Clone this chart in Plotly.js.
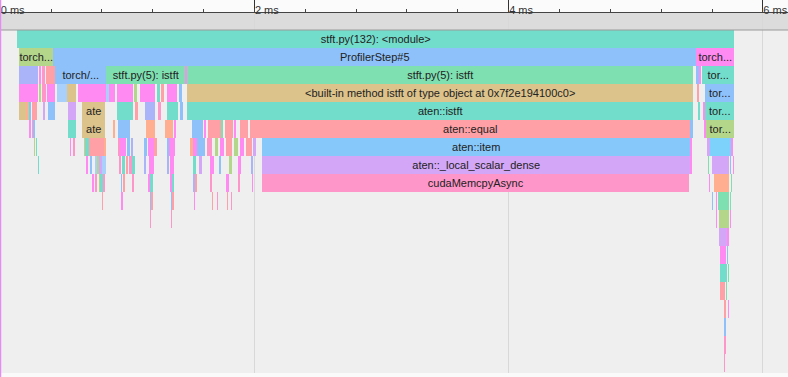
<!DOCTYPE html>
<html>
<head>
<meta charset="utf-8">
<script src="https://cdn.plot.ly/plotly-3.0.1.min.js"></script>
<style>html,body{margin:0;padding:0;background:#fafafa;}#chart{width:788px;height:377px;}</style>
</head>
<body>
<div id="chart"></div>
<script>
// ---- function names ----
const MOD="stft.py(132): <module>", PS="ProfilerStep#5",
  TEN="torch/autograd/profiler.py: __enter__", TEX="torch/autograd/profiler.py: __exit__",
  TF="torch/functional.py: istft", SI="stft.py(5): istft",
  BI="<built-in method istft of type object at 0x7f2e194100c0>",
  AI="aten::istft", AE="aten::equal", AIT="aten::item", LSD="aten::_local_scalar_dense", CM="cudaMemcpyAsync",
  TO="aten::to", TC="aten::_to_copy",
  P1="torch/profiler/profiler.py: step", P2="torch/profiler/profiler.py: _transit_action",
  P3="torch/profiler/profiler.py: stop_trace", P4="torch/autograd/profiler.py: _disable_profiler",
  VW="aten::view", RS="aten::reshape", NR="aten::narrow", CT="aten::contiguous", SL="aten::slice",
  CP="aten::copy_", AS="aten::as_strided", EM="aten::empty", AD="aten::add", DV="aten::div",
  ML="aten::mul", SE="aten::select", ZR="aten::zeros";

// ---- data: one inner array per stack depth (ms) ----
const starts = [
  [0.134],
  [0.149, 0.417, 5.476],
  [0.149, 0.307, 0.330, 0.362, 0.433, 0.834, 1.456, 1.471, 5.476, 5.500, 5.523],
  [0.149, 0.307, 0.330, 0.370, 0.448, 0.527, 0.614, 0.834, 0.858, 0.921, 1.054, 1.101, 1.235, 1.267, 1.314, 1.408, 1.471, 5.484, 5.547],
  [0.149, 0.205, 0.220, 0.228, 0.252, 0.338, 0.378, 0.535, 0.645, 0.921, 1.062, 1.141, 1.243, 1.314, 1.416, 1.471, 5.492, 5.531, 5.547],
  [0.228, 0.252, 0.260, 0.535, 0.645, 0.889, 0.928, 1.149, 1.298, 1.369, 1.511, 1.605, 1.637, 1.739, 1.770, 1.841, 1.888, 1.967, 5.429, 5.539, 5.555],
  [0.268, 0.283, 0.551, 0.574, 0.661, 0.669, 0.700, 0.818, 0.928, 0.944, 0.999, 1.031, 1.133, 1.164, 1.212, 1.314, 1.330, 1.495, 1.518, 1.550, 1.629, 1.692, 1.731, 1.778, 1.841, 1.888, 1.935, 1.991, 2.061, 5.429, 5.563, 5.586, 5.751],
  [0.299, 0.677, 0.708, 0.747, 0.763, 0.779, 0.803, 0.936, 0.960, 0.991, 1.015, 1.039, 1.133, 1.172, 1.314, 1.338, 1.518, 1.566, 1.652, 1.723, 1.802, 1.873, 1.975, 2.061, 5.429, 5.570, 5.602, 5.744, 5.767],
  [0.724, 0.747, 0.779, 0.787, 0.810, 0.952, 0.968, 1.039, 1.164, 1.180, 1.338, 1.353, 1.518, 1.534, 1.652, 1.778, 1.873, 1.983, 2.061, 5.578, 5.618, 5.751],
  [0.803, 0.952, 1.180, 1.188, 1.345, 1.353, 1.522, 1.668, 1.707, 1.786, 1.818, 5.602, 5.633, 5.649, 5.744],
  [1.180, 1.345, 5.633, 5.657, 5.744],
  [5.657, 5.720],
  [5.665, 5.720],
  [5.665, 5.724],
  [5.665, 5.708],
  [5.692, 5.724],
  [5.696],
  [5.696],
  [5.696]
];
const durations = [
  [5.641],
  [0.268, 5.059, 0.299],
  [0.150, 0.016, 0.024, 0.071, 0.401, 0.622, 0.015, 3.981, 0.024, 0.015, 0.252],
  [0.150, 0.016, 0.032, 0.063, 0.079, 0.071, 0.220, 0.024, 0.047, 0.126, 0.024, 0.118, 0.024, 0.024, 0.079, 0.024, 3.981, 0.016, 0.228],
  [0.055, 0.016, 0.008, 0.016, 0.039, 0.016, 0.055, 0.063, 0.181, 0.126, 0.024, 0.079, 0.024, 0.087, 0.024, 3.981, 0.016, 0.016, 0.228],
  [0.016, 0.008, 0.016, 0.063, 0.181, 0.016, 0.095, 0.071, 0.063, 0.016, 0.087, 0.016, 0.102, 0.016, 0.063, 0.016, 0.063, 3.462, 0.024, 0.016, 0.220],
  [0.008, 0.008, 0.008, 0.016, 0.008, 0.031, 0.118, 0.016, 0.016, 0.047, 0.024, 0.016, 0.024, 0.047, 0.024, 0.016, 0.047, 0.024, 0.031, 0.063, 0.039, 0.024, 0.031, 0.047, 0.031, 0.031, 0.047, 0.024, 3.368, 0.016, 0.024, 0.165, 0.016],
  [0.008, 0.016, 0.016, 0.016, 0.016, 0.024, 0.031, 0.016, 0.024, 0.016, 0.024, 0.024, 0.016, 0.039, 0.016, 0.031, 0.024, 0.024, 0.031, 0.016, 0.024, 0.024, 0.016, 3.368, 0.012, 0.008, 0.134, 0.008, 0.008],
  [0.016, 0.016, 0.008, 0.024, 0.016, 0.008, 0.016, 0.016, 0.016, 0.024, 0.016, 0.016, 0.016, 0.016, 0.016, 0.024, 0.016, 0.008, 3.360, 0.008, 0.118, 0.008],
  [0.008, 0.016, 0.008, 0.012, 0.008, 0.012, 0.008, 0.008, 0.008, 0.008, 0.008, 0.008, 0.008, 0.087, 0.008],
  [0.008, 0.008, 0.008, 0.079, 0.008],
  [0.063, 0.012],
  [0.047, 0.008],
  [0.055, 0.008],
  [0.039, 0.008],
  [0.016, 0.008],
  [0.012],
  [0.016],
  [0.008]
];
const names = [
  [MOD],
  [TEN, PS, TEX],
  [DV, EM, AS, SL, TF, SI, EM, SI, RS, EM, P1],
  [EM, AD, AS, EM, ZR, CT, EM, ZR, EM, EM, AD, EM, VW, SL, EM, RS, BI, SL, P2],
  [CT, ML, AD, RS, SL, CP, RS, CP, TO, VW, SL, DV, AS, VW, RS, AI, VW, EM, P3],
  [EM, AS, RS, VW, TC, ML, RS, ML, ML, EM, RS, EM, SL, NR, SL, EM, SL, AE, RS, EM, P4],
  [AD, VW, EM, AS, CT, VW, SL, ML, AS, EM, RS, DV, RS, EM, SL, RS, EM, ML, EM, RS, AS, AD, EM, SL, AD, EM, SL, CP, AIT, EM, CP, SE, EM],
  [VW, EM, RS, ZR, AD, CP, ZR, AS, VW, SL, AS, VW, DV, EM, DV, EM, VW, CP, EM, RS, AD, EM, DV, LSD, EM, NR, CP, RS, EM],
  [EM, AS, AD, VW, AS, RS, SL, AS, EM, VW, EM, VW, DV, SL, AS, EM, AS, EM, CM, EM, ML, NR],
  [SL, EM, RS, SL, RS, SL, EM, SL, AS, SL, AS, RS, EM, NR, NR],
  [AS, AS, EM, AD, EM],
  [CP, EM],
  [EM, RS],
  [VW, NR],
  [SL, NR],
  [SL, EM],
  [RS],
  [AS],
  [AS]
];
// text shown inside the wide blocks (as truncated in the reference)
const shownLabels = {
  [MOD]: "stft.py(132): <module>", [PS]: "ProfilerStep#5", [TEN]: "torch...", [TEX]: "torch...",
  [TF]: "torch/...", [SI]: "stft.py(5): istft", [BI]: "<built-in method istft of type object at 0x7f2e194100c0>",
  [AI]: "aten::istft", [AE]: "aten::equal", [AIT]: "aten::item", [LSD]: "aten::_local_scalar_dense",
  [CM]: "cudaMemcpyAsync", [TO]: "ate", [TC]: "ate", [P1]: "tor...", [P2]: "tor...", [P3]: "tor...", [P4]: "tor..."
};
const tickValues = [0, 2, 4, 6];
const tickLabels = ["0 ms", "2 ms", "4 ms", "6 ms"];

// ---- style ----
const colorOf = {
  [MOD]: "#72DDCB", [PS]: "#8EC1FA", [TEN]: "#B3D68B", [TEX]: "#FF8AF1", [TF]: "#8EC1FA",
  [SI]: "#7EE0B1", [BI]: "#DCC38B", [AI]: "#72DDCB", [AE]: "#FFA0A6", [AIT]: "#86C8FA",
  [LSD]: "#D3A6F7", [CM]: "#FF96CA", [TO]: "#DCC38B", [TC]: "#DCC38B",
  [P1]: "#72DDCB", [P2]: "#8EC1FA", [P3]: "#72DDCB", [P4]: "#B3D68B",
  [VW]: "#72DDCB", [RS]: "#8EC1FA", [NR]: "#7EE0B1", [CT]: "#DCC38B", [SL]: "#FFA0A6",
  [CP]: "#D3A6F7", [AS]: "#FF96CA", [EM]: "#FF8AF1", [AD]: "#B3D68B", [DV]: "#A9B4F9",
  [ML]: "#FFAE90", [SE]: "#7CD2FA", [ZR]: "#A8D0FA"
};

const xs = [], bs = [], ys = [], cs = [], ts = [];
starts.forEach((row, d) => {
  row.forEach((s, i) => {
    const n = names[d][i];
    bs.push(s); xs.push(durations[d][i]); ys.push(d);
    cs.push(colorOf[n]); ts.push(shownLabels[n] || "");
  });
});

const FONT = "Liberation Sans, Arial, Helvetica, sans-serif";
const xr = [-0.002, 6.198];
const traces = [
  {
    type: "bar", orientation: "h", base: bs, x: xs, y: ys, width: 1,
    marker: {color: cs, line: {width: 0}},
    text: ts, textposition: "inside", insidetextanchor: "middle", textangle: 0,
    insidetextfont: {family: FONT, size: 11, color: "#222"},
    hoverinfo: "skip", cliponaxis: true
  },
  {type: "scatter", x: [], y: [], xaxis: "x2", yaxis: "y", hoverinfo: "skip", showlegend: false}
];

const layout = {
  width: 788, height: 377,
  margin: {l: 0, r: 0, t: 0, b: 4, pad: 0},
  paper_bgcolor: "#fafafa", plot_bgcolor: "#efefef",
  showlegend: false, hovermode: false, bargap: 0,
  uniformtext: {mode: "show", minsize: 11},
  font: {family: FONT},
  xaxis: {
    range: xr, side: "top", anchor: "y", fixedrange: true,
    tickvals: tickValues, ticktext: tickLabels,
    ticks: "inside", ticklen: 12, tickwidth: 1, tickcolor: "#333",
    ticklabelposition: "inside right", tickfont: {family: FONT, size: 11, color: "#333"},
    showgrid: true, gridcolor: "#d8d8d8", gridwidth: 1, zeroline: false, showline: false
  },
  xaxis2: {
    range: xr, overlaying: "x", anchor: "free", position: 1 - 12 / 373, side: "top", fixedrange: true,
    tick0: 0, dtick: 0.4, ticks: "outside", ticklen: 3, tickwidth: 1, tickcolor: "#444",
    showticklabels: false, showgrid: false, zeroline: false,
    showline: true, linecolor: "#444", linewidth: 1
  },
  yaxis: {range: [18.556, -2.1667], visible: false, fixedrange: true},
  shapes: [
    {type: "rect", xref: "paper", yref: "paper", x0: 0, x1: 1, y0: 1 - 12 / 373, y1: 1,
     fillcolor: "#fbfbfb", line: {width: 0}, layer: "below"},
    {type: "rect", xref: "paper", yref: "y", x0: 0, x1: 1, y0: -1.5, y1: -0.5,
     fillcolor: "#dcdcdc", line: {width: 0}, layer: "below"},
    {type: "line", xref: "paper", yref: "y", x0: 0, x1: 1, y0: -0.5, y1: -0.5,
     line: {color: "#9a9a9a", width: 1}},
    {type: "line", xref: "x", yref: "paper", x0: 0, x1: 0, y0: -0.02, y1: 1,
     line: {color: "#E58CF2", width: 2}}
  ]
};

Plotly.newPlot("chart", traces, layout, {displayModeBar: false, staticPlot: true});
</script>
</body>
</html>
